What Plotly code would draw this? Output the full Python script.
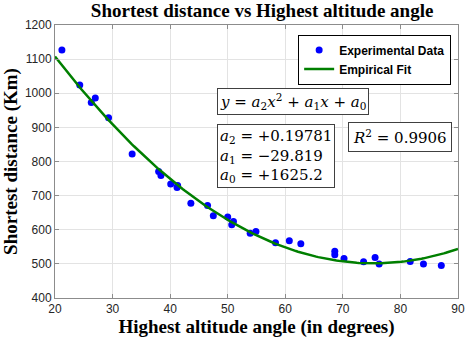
import numpy as np
import plotly.graph_objects as go

angle = [21.2, 24.3, 26.3, 27.0, 29.3, 33.4, 38.0, 38.4, 40.1, 41.2, 41.3, 43.6,
         46.5, 47.5, 50.0, 50.7, 51.0, 53.9, 54.9, 58.3, 60.7, 62.7,
         68.6, 68.6, 70.2, 73.6, 75.6, 76.3, 81.7, 84.0, 87.1]
distance = [1127, 1024, 973, 986, 928, 822, 771, 759, 734, 724, 730, 678,
            671, 641, 637, 615, 624, 590, 595, 562, 568, 559,
            537, 527, 516, 506, 519, 500, 507, 500, 495]

# Empirical quadratic fit coefficients
a2, a1, a0 = 0.19781, -29.819, 1625.2
fit_x = np.linspace(20, 90, 200)
fit_y = a2 * fit_x**2 + a1 * fit_x + a0

x_ticks = [20, 30, 40, 50, 60, 70, 80, 90]
y_ticks = [400, 500, 600, 700, 800, 900, 1000, 1100, 1200]

fig = go.Figure()
fig.add_trace(go.Scatter(x=angle, y=distance, mode="markers", name="<b>Experimental Data</b>",
                         marker=dict(color="#0000FF", size=7, line=dict(width=0))))
fig.add_trace(go.Scatter(x=fit_x, y=fit_y, mode="lines", name="<b>Empirical Fit</b>",
                         line=dict(color="#007F00", width=2.5)))

serif = "Liberation Serif, Times New Roman, serif"
mathf = "DejaVu Serif, serif"
sans = "Liberation Sans, Arial, sans-serif"
axis_common = dict(showline=True, linecolor="#8c8c8c", linewidth=1, mirror="ticks",
                   ticks="inside", ticklen=4, tickcolor="#8c8c8c",
                   showgrid=True, gridcolor="#e3e3e3", gridwidth=1, zeroline=False,
                   tickfont=dict(family=sans, size=12, color="#262626"))

fig.update_layout(
    width=474, height=339,
    margin=dict(l=55, r=9, t=25, b=40),
    paper_bgcolor="white", plot_bgcolor="white",
    title=dict(text="<b>Shortest distance vs Highest altitude angle</b>",
               font=dict(family=serif, size=19, color="black"),
               x=0.553, xanchor="center", y=0.99, yanchor="top"),
    xaxis=dict(range=[20, 90], tickvals=x_ticks,
               title=dict(text="<b>Highest altitude angle (in degrees)</b>",
                          font=dict(family=serif, size=19, color="black"), standoff=0),
               **axis_common),
    yaxis=dict(range=[400, 1200], tickvals=y_ticks,
               title=dict(text="<b>Shortest distance (Km)</b>",
                          font=dict(family=serif, size=19, color="black"), standoff=2),
               **axis_common),
    legend=dict(x=0.983, xanchor="right", y=0.965, yanchor="top",
                bgcolor="white", bordercolor="black", borderwidth=1,
                font=dict(family=sans, size=12, color="black"),
                itemwidth=30, tracegroupgap=0),
    showlegend=True,
)

box = dict(bordercolor="#404040", borderwidth=1, bgcolor="white", showarrow=False,
           font=dict(family=mathf, size=15, color="black"))
fig.add_annotation(x=48.2, y=975, xref="x", yref="y", xanchor="left", yanchor="middle",
                   text="<i>y</i> = <i>a</i><sub>2</sub><i>x</i><sup>2</sup> + <i>a</i><sub>1</sub><i>x</i> + <i>a</i><sub>0</sub>",
                   borderpad=2, **box)
fig.add_annotation(x=48.2, y=911, xref="x", yref="y", xanchor="left", yanchor="top", align="left",
                   text="<i>a</i><sub>2</sub> = +0.19781<br><i>a</i><sub>1</sub> = \u221229.819<br><i>a</i><sub>0</sub> = +1625.2",
                   borderpad=2, **box)
fig.add_annotation(x=80.0, y=873, xref="x", yref="y", xanchor="center", yanchor="middle",
                   text="<i>R</i><sup>2</sup> = 0.9906",
                   borderpad=4, **box)

fig.write_html("out.html")
